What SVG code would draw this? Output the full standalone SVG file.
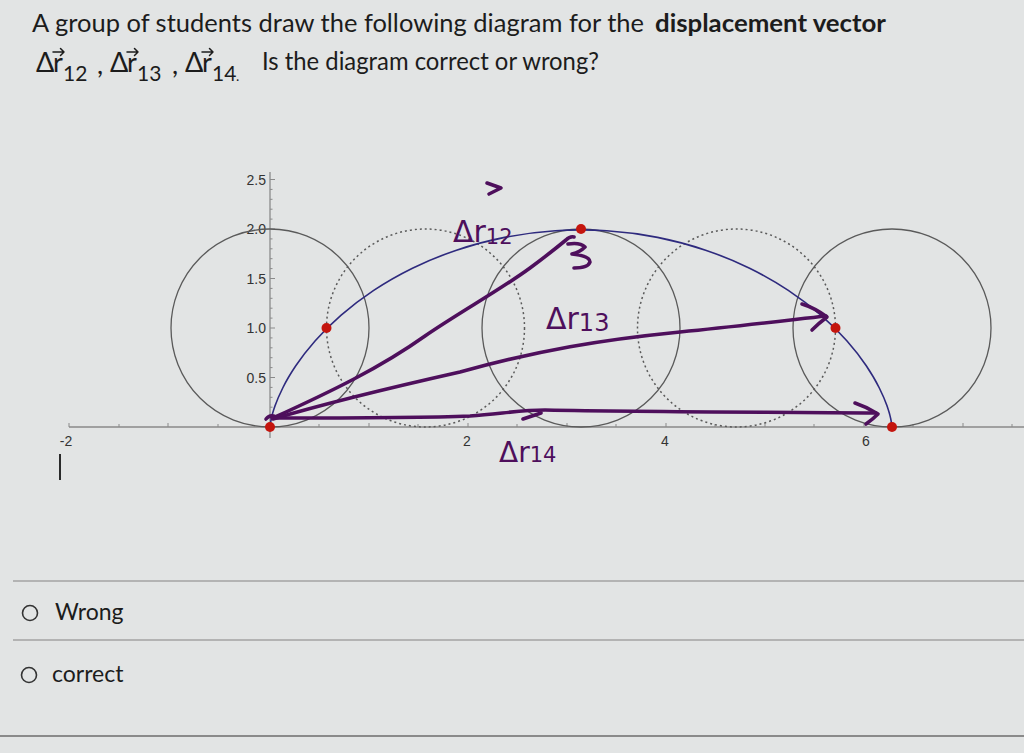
<svg xmlns="http://www.w3.org/2000/svg" width="1024" height="753" viewBox="0 0 1024 753">
<defs>
<style>
.q{font-family:Lato,"Liberation Sans",sans-serif;fill:#1c1c1c}
.vec{fill:none;stroke:#1c1c1c;stroke-width:1.5;stroke-linecap:round;stroke-linejoin:round}
.ax{stroke:#8a8a8a;stroke-width:1.3;fill:none}
.tk{stroke:#8a8a8a;stroke-width:1;fill:none}
.lbl{font-family:"Liberation Sans",Arial,sans-serif;font-size:14px;fill:#333}
.sc{fill:none;stroke:#5a5a5a;stroke-width:1.3}
.dc{fill:none;stroke:#5a5a5a;stroke-width:1.5;stroke-dasharray:2 3}
.cyc{fill:none;stroke:#2e2a7e;stroke-width:1.6}
.pt{fill:#c4150e}
.pen{fill:none;stroke:#4e0f5c;stroke-width:3.6;stroke-linecap:round;stroke-linejoin:round}
.hw{font-family:"DejaVu Sans","Liberation Sans",sans-serif;fill:#4e0f5c}
.sep{stroke:#a3a3a3;stroke-width:1.5}
.opt{font-family:Lato,"Liberation Sans",sans-serif;font-size:23px;fill:#1c1c1c}
.radio{fill:none;stroke:#333;stroke-width:1.6}
</style>
</defs>
<rect width="1024" height="753" fill="#e2e4e4"/>

<g id="question">
<text class="q" x="32" y="32" font-size="25" textLength="612" lengthAdjust="spacingAndGlyphs">A group of students draw the following diagram for the</text>
<text class="q" x="655" y="32" font-size="25" font-weight="bold" textLength="231" lengthAdjust="spacingAndGlyphs">displacement vector</text>
<text class="q" y="72" font-size="27"><tspan x="36">Δ</tspan><tspan x="53">r</tspan><tspan x="63" y="81" font-size="21">12</tspan><tspan x="97" y="74">,</tspan><tspan x="110" y="72">Δ</tspan><tspan x="127">r</tspan><tspan x="137" y="81" font-size="21">13</tspan><tspan x="172" y="74">,</tspan><tspan x="185" y="72">Δ</tspan><tspan x="202">r</tspan><tspan x="212" y="81" font-size="21">14</tspan><tspan x="236" y="81" font-size="14">.</tspan></text>
<path class="vec" d="M53,52 H64 M60.5,48.5 L64,52 L60.5,55.5"/>
<path class="vec" d="M127,52 H138 M134.5,48.5 L138,52 L134.5,55.5"/>
<path class="vec" d="M202,52 H213 M209.5,48.5 L213,52 L209.5,55.5"/>
<text class="q" x="262" y="70" font-size="25" textLength="337" lengthAdjust="spacingAndGlyphs">Is the diagram correct or wrong?</text>
</g>

<g id="axes">
<line class="ax" x1="69" y1="427" x2="1024" y2="427"/>
<line class="ax" x1="270" y1="172" x2="270" y2="438"/>
<path class="tk" d="M69,427v-4M119,427v-3M168,427v-4M218,427v-3M319,427v-3M369,427v-4M418,427v-3M468,427v-4M517,427v-3M567,427v-4M616,427v-3M666,427v-4M715,427v-3M765,427v-4M814,427v-3M864,427v-4M913,427v-3M963,427v-4M1012,427v-3"/>
<path class="tk" d="M270,377.5h5M270,328h5M270,278.5h5M270,229h5M270,179.5h5M270,417.1h2.5M270,407.2h2.5M270,397.3h2.5M270,387.4h2.5M270,367.6h2.5M270,357.7h2.5M270,347.8h2.5M270,337.9h2.5M270,318.1h2.5M270,308.2h2.5M270,298.3h2.5M270,288.4h2.5M270,268.6h2.5M270,258.7h2.5M270,248.8h2.5M270,238.9h2.5M270,219.1h2.5M270,209.2h2.5M270,199.3h2.5M270,189.4h2.5"/>
<text class="lbl" x="266" y="383" text-anchor="end">0.5</text>
<text class="lbl" x="266" y="333" text-anchor="end">1.0</text>
<text class="lbl" x="266" y="284" text-anchor="end">1.5</text>
<text class="lbl" x="266" y="234" text-anchor="end">2.0</text>
<text class="lbl" x="266" y="185" text-anchor="end">2.5</text>
<text class="lbl" x="66" y="446" text-anchor="middle" font-size="15">-2</text>
<text class="lbl" x="467" y="446" text-anchor="middle" font-size="15">2</text>
<text class="lbl" x="665" y="446" text-anchor="middle" font-size="15">4</text>
<text class="lbl" x="866" y="446" text-anchor="middle" font-size="15">6</text>
<line x1="60" y1="454" x2="60" y2="480" stroke="#2a2a2a" stroke-width="2"/>
</g>

<g id="circles">
<circle class="sc" cx="270" cy="328" r="99"/>
<circle class="dc" cx="425.5" cy="328" r="99"/>
<circle class="sc" cx="581" cy="328" r="99"/>
<circle class="dc" cx="736.5" cy="328" r="99"/>
<circle class="sc" cx="892" cy="328" r="99"/>
</g>

<g id="cycloid">
<path class="cyc" d="M270,427 L270.15,425.3 Q270.3,423.6 271.3,418.65 Q272.3,413.7 275.05,405.85 Q277.8,398 282.85,387.75 Q287.9,377.5 295.95,365.55 Q304,353.6 315.25,340.8 Q326.5,328 341.15,315.2 Q355.8,302.4 373.7,290.45 Q391.6,278.5 412.45,268.25 Q433.3,258 456.5,250.15 Q479.7,242.3 504.6,237.35 Q529.5,232.4 555.25,230.7 Q581,229 606.8,230.7 Q632.6,232.4 657.5,237.35 Q682.4,242.3 705.6,250.15 Q728.8,258 749.6,268.25 Q770.4,278.5 788.3,290.45 Q806.2,302.4 820.85,315.2 Q835.5,328 846.8,340.8 Q858.1,353.6 866.1,365.55 Q874.1,377.5 879.2,387.75 Q884.3,398 887,405.85 Q889.7,413.7 890.7,418.65 Q891.7,423.6 891.85,425.3 L892,427"/>
</g>

<g id="connectors">
<path class="pen" d="M266,419 Q270,414 276,417"/>
<path class="pen" d="M273,418 C330,392 380,368 425,336 C460,312 500,290 530,268 C545,257 555,249 566,240 Q570,236 574,237"/>
<path class="pen" d="M568,244 Q580,242 585,247 Q580,252 572,254 Q590,256 590,262 Q588,268 574,268"/>
<path class="pen" d="M273,419 C320,405 380,390 460,372 C540,350 600,340 680,332 C740,326 790,320 826,316"/>
<path class="pen" d="M802,304 Q815,308 827,317 Q819,323 812,330"/>
<path class="pen" d="M272,418 C350,418 420,418 470,416 C500,414 520,410 545,410 C650,412 760,412 876,413"/>
<path class="pen" d="M855,403 Q867,407 878,414 Q873,419 866,424"/>
</g>

<g id="points">
<circle class="pt" cx="270" cy="427" r="5"/>
<circle class="pt" cx="326.5" cy="328" r="5"/>
<circle class="pt" cx="581" cy="229" r="5"/>
<circle class="pt" cx="835.5" cy="328" r="5"/>
<circle class="pt" cx="892" cy="427" r="5"/>
</g>

<g id="label-r12">
<path class="pen" d="M487,183 L501,188 L489,194" stroke-width="3"/>
<text class="hw" x="453" y="242" font-size="30">Δr<tspan font-size="21" dy="2">12</tspan></text>
</g>
<g id="label-r13">
<text class="hw" x="546" y="329" font-size="30">Δr<tspan font-size="24" dy="2">13</tspan></text>
</g>
<g id="label-r14">
<path class="pen" d="M523,419 L541,413" stroke-width="3"/>
<text class="hw" x="499" y="462" font-size="28">Δr<tspan font-size="21">14</tspan></text>
</g>

<g id="options">
<line class="sep" x1="13" y1="581" x2="1024" y2="581"/>
<circle class="radio" cx="30" cy="613" r="7.5"/>
<text class="opt" x="55" y="620">Wrong</text>
<line class="sep" x1="13" y1="640" x2="1024" y2="640"/>
<circle class="radio" cx="29" cy="675" r="7.5"/>
<text class="opt" x="52" y="682">correct</text>
<line x1="0" y1="736" x2="1024" y2="736" stroke="#8a8a8a" stroke-width="2"/>
</g>
</svg>
